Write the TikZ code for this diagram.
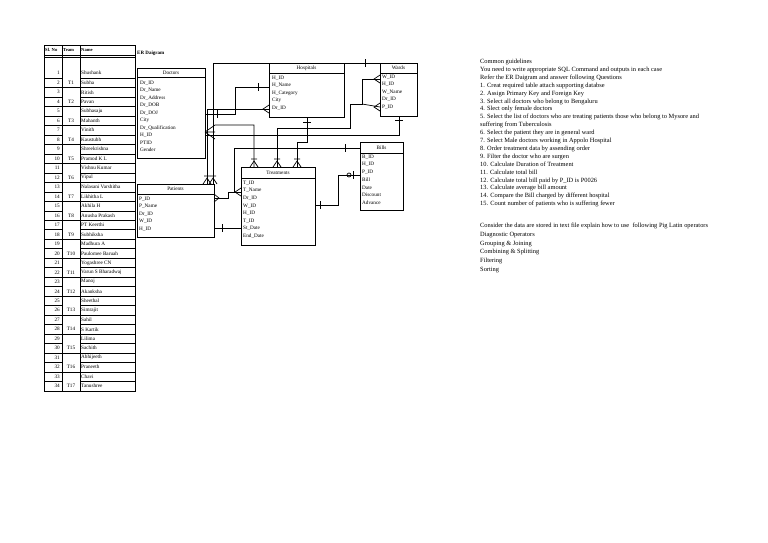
\documentclass[tikz,border=0pt]{standalone}
\usepackage{fontspec}
\setmainfont{Liberation Serif}
\begin{document}
\begin{tikzpicture}[x=1pt,y=-1pt,
  txt/.style={anchor=west,inner sep=0pt,font=\fontsize{5.2}{6}\selectfont},
  gtxt/.style={anchor=west,inner sep=0pt,font=\fontsize{6.4}{7}\selectfont},
  ent/.style={draw,line width=0.8pt},
  lnk/.style={line width=0.7pt}]
\useasboundingbox (0,0) rectangle (768,542);

% table
\draw[line width=0.7pt] (44,45) rectangle (135,391);
\draw (44,55) -- (135,55);
\draw (44,57) -- (135,57);
\draw (62,45) -- (62,391);
\draw (80,45) -- (80,391);
\node[txt,font=\fontsize{4.6}{6}\bfseries] (hsl) at (45,50) {Sl. No};
\node[txt,font=\fontsize{4.6}{6}\bfseries] (hteam) at (63,50) {Team};
\node[txt,font=\fontsize{4.6}{6}\bfseries] (hname) at (81,50) {Name};
\foreach \n [count=\i] in {Shushank,Subha,Ritish,Pavan,Subhasaju,Mahanth,Vinith,Kaustubh,Shreekrishna,Pramod K L,Vishnu Kumar,Vipul,Nalasani Varshitha,Likhitha L,Akhila H,Anusha Prakash,PT Keerthi,Subhiksha,Madhura A,Paulomee Baruah,Yogashree CN,Varun S Bharadwaj,Manoj,Akanksha,Sheethal,Simrajit,Sahil,S Kartik,Lilima,Sachith,Abhijeeth,Praneeth,Chavi,Tanushree}{
  \pgfmathsetmacro\yc{\i==1 ? 73 : 78+(\i-1.5)*9.48}
  \pgfmathsetmacro\yb{78+(\i-1)*9.48}
  \node[txt,anchor=east] (sl\i) at (60,\yc) {\i};
  \node[txt] (nm\i) at (81,\yc) {\n};
  \ifodd\i
    \draw (44,\yb) -- (62,\yb) (80,\yb) -- (135,\yb);
  \else
    \draw (44,\yb) -- (135,\yb);
    \pgfmathtruncatemacro\t{\i/2}
    \node[txt,anchor=center] (tm\t) at (71,\yc) {T\t};
  \fi
}

\node[txt,font=\fontsize{5}{6}\bfseries] (er) at (137,53) {ER Daigram};

% entities
\newcommand\entity[7]{% name, title, x1, x2, y1, y2, y3
  \draw[ent] (#3,#5) rectangle (#4,#7);
  \draw[ent] (#3,#6) -- (#4,#6);
  \node[txt,anchor=center] (#1) at ({(#3+#4)/2},{(#5+#6)/2}) {#2};
}
\entity{doc}{Doctors}{137}{205}{68}{77}{158}
\foreach \a [count=\i] in {Dr\_ID,Dr\_Name,Dr\_Address,Dr\_DOB,Dr\_DOJ,City,Dr\_Qualification,H\_ID,PTID,Gender}
  \node[txt] (doc\i) at (140,{83+(\i-1)*7.45}) {\a};
\entity{hos}{Hospitals}{269}{344}{63}{73}{117}
\foreach \a [count=\i] in {H\_ID,H\_Name,H\_Category,City,Dr\_ID}
  \node[txt] (hos\i) at (272,{78+(\i-1)*7.5}) {\a};
\entity{war}{Wards}{380}{417}{63}{73}{116}
\foreach \a [count=\i] in {W\_ID,H\_ID,W\_Name,Dr\_ID,P\_ID}
  \node[txt] (war\i) at (382,{77+(\i-1)*7.5}) {\a};
\entity{bil}{Bills}{360}{403}{142}{153}{210}
\foreach \a [count=\i] in {B\_ID,H\_ID,P\_ID,Bill,Date,Discount,Advance}
  \node[txt] (bil\i) at (362,{157+(\i-1)*7.6}) {\a};
\entity{tre}{Treatments}{241}{315}{167}{178}{245}
\foreach \a [count=\i] in {T\_ID,T\_Name,Dr\_ID,W\_ID,H\_ID,T\_ID,St\_Date,End\_Date}
  \node[txt] (tre\i) at (243,{183+(\i-1)*7.55}) {\a};
\entity{pat}{Patients}{137}{214}{184}{194}{237}
\foreach \a [count=\i] in {P\_ID,P\_Name,Dr\_ID,W\_ID,H\_ID}
  \node[txt] (pat\i) at (139,{199+(\i-1)*7.5}) {\a};

% links
\draw[lnk] (213,184) -- (213,63) -- (380,63);
\draw[lnk] (365,59) -- (365,67);
\draw[lnk] (207,184) -- (207,109) -- (269,109);
\draw[lnk] (205,114) -- (235,114) -- (235,87) -- (269,87);
\draw[lnk] (258,83) -- (258,91) (217,110) -- (217,118);
\draw[lnk] (205,132) -- (215,125) -- (254,125) -- (254,167);
\draw[lnk] (205,132) -- (215,139) (205,132) -- (215,132);
\draw[lnk] (205,135) -- (399,135) -- (399,116);
\draw[lnk] (395,120) -- (403,120);
\draw[lnk] (307,117) -- (307,142) -- (297,142) -- (297,167);
\draw[lnk] (303,122) -- (311,122);
\draw[lnk] (380,79) -- (362,79) -- (362,104) -- (350,104) -- (350,128) -- (277,128) -- (277,167);
\draw[lnk] (380,107) -- (362,104);
\draw[lnk] (360,148) -- (234,148) -- (234,192) -- (241,192);
\draw[lnk] (345,144) -- (345,152);
\draw[lnk] (214,198) -- (228,198) -- (228,192) -- (234,192);
\draw[lnk] (214,228) -- (241,228) (222,224) -- (222,232);
\draw[lnk] (315,205) -- (338,205) -- (338,175) -- (360,175);
\draw[lnk] (320,201) -- (320,209) (353,171) -- (353,179);
\draw[lnk] (349,175) circle (2);
% crow's feet
\foreach \cx/\cy in {207/184,213/184,254/167,277/167,297/167}
  \draw[lnk] (\cx-4,\cy) -- (\cx,\cy-6) -- (\cx+4,\cy) (\cx-3,\cy-8) -- (\cx+3,\cy-8);
\foreach \cx/\cy in {269/109,380/79,380/107}
  \draw[lnk] (\cx,\cy-4) -- (\cx-6,\cy) -- (\cx,\cy+4);
\draw[lnk] (241,188) -- (235,192) -- (241,196) (214,194) -- (219,198) -- (214,202);

% guidelines
\foreach \l [count=\i] in {Common guidelines,You need to write appropriate SQL Command and outputs in each case,Refer the ER Daigram and answer following Questions,1. Creat required table attach supporting databse,2. Assign Primary Key and Foreign Key,3. Select all doctors who belong to Bengaluru,4. Slect only female doctors,5. Select the list of doctors who are treating patients those who belong to Mysore and,suffering from Tuberculosis,6. Select the patient they are in general ward,7. Select Male doctors working in Appolo Hospital,8. Order treatment data by assending order,9. Filter the doctor who are surgen,10. Calculate Duration of Treatment,11. Calculate total bill,12. Calculate total bill paid by P\_ID is P0026,13. Calculate average bill amount,14. Compare the Bill charged by different hospital,15. Count number of patients who is suffering fewer}
  \node[gtxt] (g\i) at (480,{62+(\i-1)*7.9}) {\l};
\foreach \l [count=\i] in {Consider the data are stored in text file explain how to use\ \ following Pig Latin operators,Diagnostic Operators,Grouping \& Joining,Combining \& Splitting,Filtering,Sorting}
  \node[gtxt] (p\i) at (480,{226+(\i-1)*8.8}) {\l};
\end{tikzpicture}
\end{document}
